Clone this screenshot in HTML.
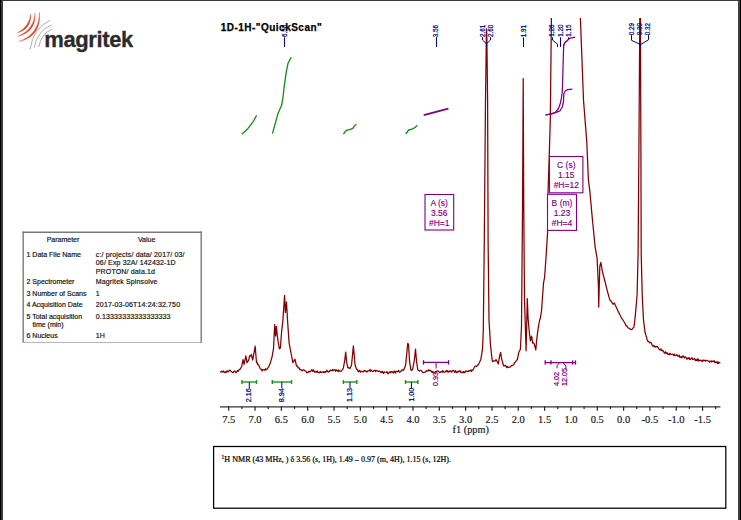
<!DOCTYPE html>
<html><head><meta charset="utf-8"><style>
html,body{margin:0;padding:0;background:#fff;}
body{width:741px;height:520px;overflow:hidden;position:relative;}
svg{position:absolute;left:0;top:0;}
svg{font-family:"Liberation Sans",sans-serif;}
.sf{font-family:"Liberation Serif",serif;}
</style></head><body>
<svg width="741" height="520" viewBox="0 0 741 520">
<rect x="0" y="0" width="741" height="520" fill="#fff"/>
<!-- logo -->
<g fill="none" stroke-linecap="round">
 <g stroke="#b0b0b0" stroke-width="1">
  <path d="M49.9,20.4 Q33,28 30.2,49"/>
  <path d="M51.2,25.1 Q37,31 34.4,47"/>
  <path d="M51.9,29.1 Q41,34 38.8,46.6"/>
 </g>
 <g fill="#d6472c" stroke="#d6472c" stroke-width="0.35">
  <path d="M39.6,12.7 Q41.15,37.15 18.9,41.4 Q38.85,34.85 39.6,12.7Z"/>
  <path d="M35.1,13.6 Q36.15,32.15 18,36.3 Q33.85,29.85 35.1,13.6Z"/>
  <path d="M30.7,14.3 Q31.65,29.15 17.2,33 Q29.35,26.85 30.7,14.3Z"/>
 </g>
</g>
<text x="44.3" y="46.8" font-size="22" font-weight="bold" fill="#2b2b2b" stroke="#2b2b2b" stroke-width="0.3" letter-spacing="-0.4">magritek</text>

<!-- table -->
<g stroke="#7a7a7a" stroke-width="1.4"><line x1="22.5" y1="232.2" x2="202" y2="232.2"/><line x1="23.2" y1="231.5" x2="23.2" y2="343"/><line x1="201.2" y1="231.5" x2="201.2" y2="343"/></g><line x1="23" y1="342.5" x2="201" y2="342.5" stroke="#b8b8b8" stroke-width="1"/>
<g font-size="7" fill="#111" stroke="#111" stroke-width="0.18">
<text x="63" y="241.6" text-anchor="middle">Parameter</text>
<text x="146.6" y="241.6" text-anchor="middle">Value</text>
<text x="26.5" y="256.8">1 Data File Name</text><text x="95.8" y="256.8" letter-spacing="0.15">c:/ projects/ data/ 2017/ 03/</text><text x="95.8" y="265.3" letter-spacing="0.15">06/ Exp 32A/ 142432-1D</text><text x="95.8" y="273.8" letter-spacing="0.15">PROTON/ data.1d</text><text x="26.5" y="284.4">2 Spectrometer</text><text x="95.8" y="284.4" letter-spacing="0.15">Magritek Spinsolve</text><text x="26.5" y="295.8">3 Number of Scans</text><text x="95.8" y="295.8" letter-spacing="0.15">1</text><text x="26.5" y="306.9">4 Acquisition Date</text><text x="95.8" y="306.9" letter-spacing="0.15">2017-03-06T14:24:32.750</text><text x="26.5" y="318.8">5 Total acquisition</text><text x="95.8" y="318.8" letter-spacing="0.15">0.13333333333333333</text><text x="26.5" y="337.8">6 Nucleus</text><text x="95.8" y="337.8" letter-spacing="0.15">1H</text><text x="32.4" y="326.6">time (min)</text>
</g>

<!-- spectrum -->
<defs><clipPath id="cp"><rect x="215" y="18" width="510" height="380"/></clipPath></defs>
<path d="M220.20,372.20 L220.85,371.67 L221.50,371.15 L222.15,372.17 L222.80,371.70 L223.45,370.97 L224.10,372.28 L224.75,372.14 L225.40,372.70 L226.05,371.43 L226.70,372.22 L227.35,370.89 L228.00,371.70 L228.65,371.37 L229.30,370.36 L229.95,370.23 L230.60,371.00 L231.45,371.53 L232.30,372.40 L233.15,372.60 L234.00,371.30 L234.60,370.90 L235.20,371.60 L235.80,372.70 L236.65,371.89 L237.50,370.50 L238.15,371.23 L238.80,370.08 L239.45,369.36 L240.10,369.30 L240.95,367.75 L241.80,366.20 L243.00,359.60 L244.10,364.40 L244.95,360.10 L245.80,355.80 L247.00,362.70 L247.85,361.40 L248.70,360.10 L249.60,355.80 L250.45,356.20 L251.30,354.40 L252.00,357.25 L252.70,360.10 L253.32,356.62 L253.95,353.15 L254.57,349.68 L255.20,346.20 L255.85,354.45 L256.50,362.70 L257.10,362.22 L257.70,364.66 L258.30,364.40 L258.97,365.83 L259.63,367.27 L260.30,368.70 L260.90,368.98 L261.50,369.42 L262.10,371.00 L262.83,369.65 L263.57,369.63 L264.30,369.60 L264.95,370.25 L265.60,368.72 L266.25,369.56 L266.90,369.30 L267.50,368.85 L268.10,367.47 L268.70,367.00 L269.55,364.85 L270.40,362.70 L271.25,359.65 L272.10,356.60 L272.80,352.70 L273.50,348.80 L274.70,324.60 L275.60,335.90 L276.40,326.30 L277.30,335.90 L278.20,341.90 L279.40,348.80 L280.40,348.00 L281.00,339.75 L281.60,331.50 L282.80,321.20 L283.40,312.63 L284.00,304.07 L284.60,295.50 L285.40,312.50 L286.50,302.00 L287.70,322.90 L288.40,332.85 L289.10,342.80 L289.80,346.53 L290.50,350.27 L291.20,354.00 L292.05,358.35 L292.90,362.70 L293.60,361.53 L294.30,360.37 L295.00,359.20 L295.65,362.25 L296.30,365.30 L296.90,366.28 L297.50,366.03 L298.10,367.90 L298.95,367.74 L299.80,369.60 L300.65,369.37 L301.50,370.50 L302.15,370.79 L302.80,370.08 L303.45,369.70 L304.10,370.00 L304.74,370.72 L305.38,370.93 L306.02,371.10 L306.66,372.76 L307.30,372.60 L307.90,372.72 L308.50,371.34 L309.10,371.76 L309.70,371.31 L310.30,371.78 L310.90,371.10 L311.50,369.75 L312.10,369.90 L312.76,371.44 L313.42,369.90 L314.08,371.03 L314.74,372.25 L315.40,372.10 L316.04,371.28 L316.67,372.03 L317.31,370.98 L317.94,372.40 L318.58,372.60 L319.21,372.14 L319.85,372.81 L320.49,371.50 L321.12,372.36 L321.76,372.10 L322.39,372.05 L323.03,371.74 L323.66,372.60 L324.30,371.80 L324.95,372.69 L325.60,371.48 L326.25,371.79 L326.90,370.27 L327.55,371.61 L328.20,371.36 L328.85,372.02 L329.50,371.50 L330.15,370.13 L330.80,370.50 L331.41,370.27 L332.01,370.95 L332.62,369.50 L333.23,370.54 L333.83,369.89 L334.44,369.81 L335.04,369.70 L335.65,371.37 L336.26,369.93 L336.86,370.23 L337.47,370.59 L338.07,371.73 L338.68,369.94 L339.29,370.82 L339.89,371.08 L340.50,371.00 L341.23,371.08 L341.95,370.13 L342.67,369.44 L343.40,367.80 L344.05,364.15 L344.70,360.50 L345.70,352.10 L346.60,362.10 L347.25,364.95 L347.90,367.80 L348.57,367.56 L349.23,368.14 L349.90,368.60 L350.70,366.95 L351.50,365.30 L352.13,358.83 L352.77,352.37 L353.40,345.90 L354.25,355.60 L355.10,365.30 L355.90,367.35 L356.70,369.40 L357.37,369.53 L358.03,371.18 L358.70,371.80 L359.37,370.40 L360.03,370.91 L360.70,372.10 L361.32,371.37 L361.95,371.26 L362.57,371.73 L363.19,371.86 L363.82,371.00 L364.44,370.29 L365.06,371.13 L365.69,370.91 L366.31,371.25 L366.94,372.02 L367.56,371.31 L368.18,370.79 L368.81,370.92 L369.43,370.94 L370.05,369.40 L370.68,371.23 L371.30,370.20 L371.91,370.99 L372.51,371.36 L373.12,371.34 L373.73,370.55 L374.33,370.72 L374.94,370.19 L375.54,371.56 L376.15,370.39 L376.76,370.55 L377.36,371.03 L377.97,371.07 L378.57,371.63 L379.18,371.12 L379.79,371.15 L380.39,371.65 L381.00,372.60 L381.61,371.68 L382.21,372.29 L382.82,371.51 L383.43,373.46 L384.03,372.86 L384.64,371.79 L385.24,372.03 L385.85,372.25 L386.46,372.29 L387.06,371.73 L387.67,373.40 L388.27,373.73 L388.88,372.52 L389.49,372.56 L390.09,371.65 L390.70,372.60 L391.35,371.61 L392.00,372.08 L392.65,371.82 L393.30,373.04 L393.95,371.42 L394.60,371.02 L395.25,373.08 L395.90,372.02 L396.55,371.07 L397.20,371.80 L397.84,371.74 L398.48,370.39 L399.12,371.38 L399.76,372.26 L400.40,371.84 L401.04,371.29 L401.68,370.13 L402.32,370.21 L402.96,369.59 L403.60,370.20 L404.27,368.57 L404.93,366.93 L405.60,365.30 L406.25,358.85 L406.90,352.40 L407.70,343.50 L408.50,344.30 L409.50,360.50 L410.20,365.35 L410.90,370.20 L411.75,370.43 L412.60,369.40 L413.45,364.95 L414.30,360.50 L415.50,349.10 L416.60,362.10 L417.25,366.15 L417.90,370.20 L418.60,370.37 L419.30,371.04 L420.00,370.50 L420.67,370.47 L421.33,370.60 L422.00,371.60 L422.64,372.26 L423.27,372.61 L423.91,372.25 L424.55,372.09 L425.18,372.06 L425.82,371.82 L426.45,370.59 L427.09,371.20 L427.73,370.78 L428.36,369.97 L429.00,371.00 L429.64,370.00 L430.27,370.66 L430.91,370.69 L431.55,371.77 L432.18,372.46 L432.82,371.37 L433.45,372.58 L434.09,372.78 L434.73,372.78 L435.36,371.51 L436.00,371.90 L436.61,371.22 L437.23,371.19 L437.84,371.09 L438.45,371.06 L439.07,371.99 L439.68,372.59 L440.29,372.41 L440.90,371.54 L441.52,371.90 L442.13,372.20 L442.74,370.51 L443.36,371.80 L443.97,372.33 L444.58,372.00 L445.20,371.89 L445.81,371.22 L446.42,370.50 L447.03,371.86 L447.65,370.77 L448.26,371.81 L448.87,372.16 L449.49,370.80 L450.10,371.00 L450.72,370.83 L451.34,372.13 L451.95,371.68 L452.57,370.45 L453.19,370.41 L453.81,370.52 L454.42,372.30 L455.04,372.13 L455.66,370.66 L456.28,372.28 L456.89,372.69 L457.51,372.00 L458.13,371.34 L458.75,371.85 L459.36,370.95 L459.98,370.73 L460.60,371.90 L461.24,372.96 L461.87,372.19 L462.51,371.88 L463.15,372.79 L463.78,371.61 L464.42,372.59 L465.05,372.46 L465.69,371.02 L466.33,371.08 L466.96,371.15 L467.60,371.60 L468.26,370.83 L468.93,371.45 L469.59,370.52 L470.25,370.71 L470.91,369.88 L471.57,371.49 L472.24,370.04 L472.90,370.20 L473.75,368.45 L474.60,366.70 L475.32,366.24 L476.04,366.17 L476.76,366.55 L477.48,365.08 L478.20,364.90 L478.85,363.57 L479.50,362.25 L480.15,360.93 L480.80,359.60 L481.65,354.35 L482.50,349.10 L483.30,330.00 L484.30,240.00 L485.50,100.00 L486.30,40.00 L486.60,28.80 L486.90,40.00 L487.60,100.00 L488.10,240.00 L489.00,320.00 L489.70,331.95 L490.40,343.90 L491.00,349.43 L491.60,354.97 L492.20,360.50 L492.85,361.59 L493.50,360.75 L494.15,360.95 L494.80,361.00 L495.40,360.89 L496.00,359.56 L496.60,360.50 L497.45,362.25 L498.30,364.00 L498.95,360.05 L499.60,356.10 L500.60,352.30 L501.80,359.60 L502.40,361.67 L503.00,363.73 L503.60,365.80 L504.25,365.89 L504.90,365.52 L505.55,365.33 L506.20,366.70 L506.80,367.65 L507.40,366.48 L508.00,367.50 L508.80,367.19 L509.60,367.00 L510.20,367.17 L510.80,366.43 L511.40,365.55 L512.00,365.64 L512.60,365.38 L513.20,364.90 L513.85,364.70 L514.50,362.29 L515.15,362.49 L515.80,361.50 L516.55,360.17 L517.30,360.00 L518.05,356.15 L518.80,352.30 L519.60,350.75 L520.40,349.20 L521.50,326.20 L521.90,280.00 L522.60,200.00 L523.20,78.50 L523.70,200.00 L524.50,300.00 L525.30,325.40 L526.10,350.80 L527.30,298.50 L528.10,318.50 L528.75,325.75 L529.40,333.00 L530.40,340.80 L531.00,338.50 L531.60,336.20 L532.70,343.10 L533.45,342.94 L534.20,343.80 L535.00,346.90 L535.80,350.00 L536.50,341.50 L537.15,336.15 L537.80,330.80 L538.55,326.15 L539.30,321.50 L540.40,318.00 L541.50,310.80 L542.50,297.00 L543.50,283.10 L544.60,277.30 L545.30,267.50 L546.00,257.70 L546.80,245.00 L547.60,232.30 L548.00,193.80 L548.60,175.35 L549.20,156.90 L550.30,120.00 L551.40,18.00 M580.40,18.00 L581.02,34.40 L581.64,50.80 L582.26,67.20 L582.88,83.60 L583.50,100.00 L584.16,108.46 L584.82,116.92 L585.48,125.38 L586.14,133.84 L586.80,142.30 L587.60,161.15 L588.40,180.00 L589.10,185.40 L589.80,190.80 L590.47,198.23 L591.15,205.65 L591.83,213.07 L592.50,220.50 L593.17,227.28 L593.85,234.05 L594.53,240.82 L595.20,247.60 L595.83,251.20 L596.47,254.80 L597.10,258.40 L597.75,271.90 L598.40,285.40 L598.70,307.00 L599.80,266.50 L600.80,262.40 L601.65,267.15 L602.50,271.90 L603.20,274.60 L603.90,277.30 L604.60,280.00 L605.27,282.70 L605.95,285.40 L606.62,288.10 L607.30,290.80 L608.03,293.50 L608.77,296.20 L609.50,298.90 L610.13,300.43 L610.77,300.72 L611.40,301.60 L612.20,302.95 L613.00,304.30 L613.65,303.79 L614.30,303.00 L615.00,304.52 L615.70,306.04 L616.40,307.56 L617.10,309.08 L617.80,310.60 L618.50,312.00 L619.20,313.40 L619.90,314.80 L620.60,316.20 L621.30,317.60 L621.98,318.64 L622.66,319.68 L623.34,320.72 L624.02,321.76 L624.70,322.80 L625.40,324.42 L626.10,325.79 L626.80,325.73 L627.50,327.14 L628.20,327.90 L628.88,328.27 L629.56,328.65 L630.24,329.42 L630.92,329.23 L631.60,329.70 L632.40,328.88 L633.20,327.85 L634.00,327.00 L634.65,321.25 L635.30,315.50 L635.90,308.60 L636.50,301.70 L637.10,294.80 L638.10,253.40 L638.90,150.00 L639.80,18.00 M640.40,18.00 L640.90,150.00 L641.20,253.40 L642.20,294.80 L642.85,307.40 L643.50,320.00 L644.25,326.15 L645.00,332.30 L645.77,334.87 L646.53,337.43 L647.30,340.00 L647.92,341.48 L648.54,341.38 L649.16,342.25 L649.78,342.86 L650.40,342.30 L651.03,342.51 L651.67,343.97 L652.30,345.62 L652.93,346.15 L653.57,345.30 L654.20,346.90 L654.85,346.16 L655.50,347.03 L656.15,346.32 L656.80,346.84 L657.45,346.58 L658.10,347.70 L658.77,348.56 L659.45,349.30 L660.12,350.04 L660.80,348.81 L661.48,350.57 L662.15,350.92 L662.83,350.20 L663.50,351.50 L664.16,352.67 L664.83,353.15 L665.49,351.72 L666.15,353.69 L666.81,352.70 L667.47,353.20 L668.14,354.64 L668.80,353.80 L669.42,354.72 L670.04,353.34 L670.66,354.12 L671.28,354.48 L671.90,354.23 L672.52,354.06 L673.14,354.50 L673.76,355.59 L674.38,354.13 L675.00,355.40 L675.62,355.64 L676.24,355.50 L676.86,354.65 L677.48,355.49 L678.10,356.29 L678.72,356.15 L679.34,355.24 L679.96,357.48 L680.58,357.14 L681.20,356.60 L681.81,357.84 L682.42,356.01 L683.03,356.54 L683.64,356.18 L684.25,358.04 L684.86,357.03 L685.47,356.87 L686.08,357.70 L686.69,358.99 L687.30,358.20 L687.92,359.03 L688.54,357.84 L689.16,357.69 L689.78,359.56 L690.40,358.86 L691.02,359.26 L691.64,357.96 L692.26,357.98 L692.88,359.53 L693.50,359.20 L694.11,359.14 L694.72,358.44 L695.33,360.54 L695.94,359.95 L696.55,360.44 L697.16,358.90 L697.77,360.79 L698.38,359.08 L698.99,361.02 L699.60,360.30 L700.22,360.28 L700.84,360.11 L701.46,360.69 L702.08,361.64 L702.70,360.22 L703.32,359.99 L703.94,360.99 L704.56,360.42 L705.18,360.21 L705.80,361.20 L706.41,360.48 L707.02,360.29 L707.63,360.69 L708.24,361.01 L708.85,361.05 L709.46,362.16 L710.07,361.14 L710.68,361.68 L711.29,361.00 L711.90,361.80 L712.51,361.52 L713.11,360.83 L713.72,361.44 L714.33,360.97 L714.94,362.69 L715.54,362.35 L716.15,361.59 L716.76,362.31 L717.36,363.44 L717.97,361.61 L718.58,363.32 L719.19,362.50 L719.79,362.72 L720.40,362.80" fill="none" stroke="#800000" stroke-width="1.25" stroke-linejoin="round" clip-path="url(#cp)"/>

<!-- peak labels -->
<g font-size="6.5"><text transform="translate(287.20,36.90) rotate(-90) scale(0.83,1)" fill="#00007a" stroke="#00007a" stroke-width="0.22" font-size="7.6" letter-spacing="0">6.50</text><line x1="284.5" y1="37.5" x2="284.5" y2="47" stroke="#00007a"/><text transform="translate(438.00,37.20) rotate(-90) scale(0.83,1)" fill="#00007a" stroke="#00007a" stroke-width="0.22" font-size="7.6" letter-spacing="0">3.56</text><line x1="436.5" y1="37" x2="436.5" y2="47" stroke="#00007a"/><text transform="translate(484.60,37.00) rotate(-90) scale(0.83,1)" fill="#00007a" stroke="#00007a" stroke-width="0.22" font-size="7.6" letter-spacing="0">2.61</text><text transform="translate(493.00,37.00) rotate(-90) scale(0.83,1)" fill="#00007a" stroke="#00007a" stroke-width="0.22" font-size="7.6" letter-spacing="0">2.60</text><polyline points="482.5,37.3 482.5,40 486.5,43.8 486.5,47" fill="none" stroke="#00007a"/><polyline points="490.5,37.3 490.5,40 486.5,43.8" fill="none" stroke="#00007a"/><text transform="translate(525.70,37.30) rotate(-90) scale(0.83,1)" fill="#00007a" stroke="#00007a" stroke-width="0.22" font-size="7.6" letter-spacing="0">1.91</text><line x1="523.5" y1="37.3" x2="523.5" y2="47" stroke="#00007a"/><text transform="translate(554.10,36.70) rotate(-90) scale(0.83,1)" fill="#00007a" stroke="#00007a" stroke-width="0.22" font-size="7.6" letter-spacing="0">1.26</text><text transform="translate(562.70,36.70) rotate(-90) scale(0.83,1)" fill="#00007a" stroke="#00007a" stroke-width="0.22" font-size="7.6" letter-spacing="0">1.20</text><text transform="translate(570.80,36.70) rotate(-90) scale(0.83,1)" fill="#00007a" stroke="#00007a" stroke-width="0.22" font-size="7.6" letter-spacing="0">1.15</text><polyline points="552.5,37.3 552.5,40.1 557.5,44.2 557.5,47" fill="none" stroke="#00007a"/><line x1="560.5" y1="37.3" x2="560.5" y2="47" stroke="#00007a"/><polyline points="568.5,37.3 568.5,39.8 563.5,44.3 563.5,47" fill="none" stroke="#00007a"/><text transform="translate(633.95,35.30) rotate(-90) scale(0.83,1)" fill="#00007a" stroke="#00007a" stroke-width="0.22" font-size="7.6" letter-spacing="0">0.29</text><text transform="translate(642.20,35.30) rotate(-90) scale(0.83,1)" fill="#00007a" stroke="#00007a" stroke-width="0.22" font-size="7.6" letter-spacing="0">0.30</text><text transform="translate(650.45,35.30) rotate(-90) scale(0.83,1)" fill="#00007a" stroke="#00007a" stroke-width="0.22" font-size="7.6" letter-spacing="0">0.32</text><polyline points="631.5,35.2 631.5,40.3 640.5,44.6 640.5,46.8" fill="none" stroke="#00007a"/><polyline points="648.5,35.2 648.5,39.8 640.5,44.6" fill="none" stroke="#00007a"/></g>

<!-- title -->
<text x="220.7" y="30.7" font-size="10" font-weight="bold" fill="#000" stroke="#000" stroke-width="0.25" letter-spacing="0.48">1D-1H-"QuickScan"</text>

<!-- integrals -->
<g fill="none" stroke="#148a14" stroke-width="1.3" stroke-linejoin="round">
<polyline points="241.9,134.2 247.8,128.7 253.3,121.4 256.6,115.4"/><polyline points="272.5,133.6 275.2,123.6 278.0,113.5 281.6,105.3 282.9,98.0 284.4,85.2 286.2,72.4 288.0,63.3 291.3,57.4"/><polyline points="343.4,134.0 346.3,130.4 349.6,129.6 352.8,128.3 354.4,125.9 356.4,124.3"/><polyline points="405.8,134.0 408.7,130.0 411.9,129.1 415.2,127.5 417.3,125.1"/>
</g>
<polyline points="423.7,115.1 436,111.9 448.4,108.6" fill="none" stroke="#800080" stroke-width="1.9"/>
<g fill="none" stroke="#800080" stroke-width="1.25" stroke-linejoin="round">
<polyline points="545.4,115.0 551.5,113.8 555.4,112.3 558.5,108.5 560.4,103.0 561.5,97.7 562.3,91.5 562.7,80.0 563.3,57.4 563.7,45.7 565.0,42.5 569.7,38.3 575.0,37.2"/>
<polyline points="545.4,115.0 551.5,113.8 555.4,112.7 560.0,110.8 562.3,107.0 563.5,101.5 563.8,93.8 565.4,90.8 567.7,89.6 572.3,89.2"/>
</g>

<!-- boxes -->
<g font-size="8.5" fill="#800080" stroke="#800080" stroke-width="0.15"><rect x="425" y="194.5" width="28.70" height="35.50" fill="#fff" stroke="#800080" stroke-width="1.1"/><text x="439.2" y="205.80" text-anchor="middle">A (s)</text><text x="439.2" y="215.65" text-anchor="middle">3.56</text><text x="439.2" y="225.50" text-anchor="middle">#H=1</text><rect x="549.5" y="156.5" width="33.40" height="36.30" fill="#fff" stroke="#800080" stroke-width="1.1"/><text x="566.3" y="168.00" text-anchor="middle">C (s)</text><text x="566.3" y="177.85" text-anchor="middle">1.15</text><text x="566.3" y="187.70" text-anchor="middle">#H=12</text><rect x="547.5" y="194.3" width="29.00" height="36.10" fill="#fff" stroke="#800080" stroke-width="1.1"/><text x="562.0" y="206.40" text-anchor="middle">B (m)</text><text x="562.0" y="216.25" text-anchor="middle">1.23</text><text x="562.0" y="226.10" text-anchor="middle">#H=4</text></g>

<!-- integration bars -->
<g font-size="6.5"><line x1="242" y1="382" x2="256.5" y2="382" stroke="#148a14" stroke-width="1.3"/><line x1="242" y1="380.1" x2="242" y2="383.9" stroke="#148a14" stroke-width="1.4"/><line x1="256.5" y1="380.1" x2="256.5" y2="383.9" stroke="#148a14" stroke-width="1.4"/><line x1="249.3" y1="382" x2="249.3" y2="388.3" stroke="#00007a"/><text transform="translate(251.05,402.20) rotate(-90) scale(1.0,1)" fill="#00007a" stroke="#00007a" stroke-width="0.22" font-size="7.2" letter-spacing="0">2.16</text><line x1="272.3" y1="382" x2="291.5" y2="382" stroke="#148a14" stroke-width="1.3"/><line x1="272.3" y1="380.1" x2="272.3" y2="383.9" stroke="#148a14" stroke-width="1.4"/><line x1="291.5" y1="380.1" x2="291.5" y2="383.9" stroke="#148a14" stroke-width="1.4"/><line x1="281.8" y1="382" x2="281.8" y2="388.3" stroke="#00007a"/><text transform="translate(284.05,402.30) rotate(-90) scale(1.0,1)" fill="#00007a" stroke="#00007a" stroke-width="0.22" font-size="7.2" letter-spacing="0">8.94</text><line x1="343.4" y1="382" x2="356.8" y2="382" stroke="#148a14" stroke-width="1.3"/><line x1="343.4" y1="380.1" x2="343.4" y2="383.9" stroke="#148a14" stroke-width="1.4"/><line x1="356.8" y1="380.1" x2="356.8" y2="383.9" stroke="#148a14" stroke-width="1.4"/><line x1="350.0" y1="382" x2="350.0" y2="388.3" stroke="#00007a"/><text transform="translate(352.05,402.00) rotate(-90) scale(1.0,1)" fill="#00007a" stroke="#00007a" stroke-width="0.22" font-size="7.2" letter-spacing="0">1.13</text><line x1="405.5" y1="382" x2="417.9" y2="382" stroke="#148a14" stroke-width="1.3"/><line x1="405.5" y1="380.1" x2="405.5" y2="383.9" stroke="#148a14" stroke-width="1.4"/><line x1="417.9" y1="380.1" x2="417.9" y2="383.9" stroke="#148a14" stroke-width="1.4"/><line x1="411.4" y1="382" x2="411.4" y2="388.3" stroke="#00007a"/><text transform="translate(413.85,401.70) rotate(-90) scale(1.0,1)" fill="#00007a" stroke="#00007a" stroke-width="0.22" font-size="7.2" letter-spacing="0">1.00</text><g stroke="#800080" stroke-width="1.3"><line x1="423.5" y1="362.4" x2="448.6" y2="362.4"/><line x1="423.5" y1="360.2" x2="423.5" y2="364.6"/><line x1="448.6" y1="360.2" x2="448.6" y2="364.6"/></g><line x1="436.1" y1="362.4" x2="436.1" y2="368.5" stroke="#800080"/><text transform="translate(438.25,386.10) rotate(-90) scale(1.0,1)" fill="#800080" stroke="#800080" stroke-width="0.22" font-size="7.2" letter-spacing="0">0.93</text><g stroke="#800080" stroke-width="1.3"><line x1="545.2" y1="362.6" x2="575.5" y2="362.6"/><line x1="545.2" y1="360.3" x2="545.2" y2="364.6"/><line x1="551" y1="360.3" x2="551" y2="364.6"/><line x1="572.6" y1="360.3" x2="572.6" y2="364.6"/><line x1="575.5" y1="360.3" x2="575.5" y2="364.6"/></g><polyline points="559.6,362.6 557,365.8 557,368.3" fill="none" stroke="#800080"/><polyline points="563,362.6 565.9,366.2 565.9,369.8" fill="none" stroke="#800080"/><text transform="translate(558.85,385.90) rotate(-90) scale(1.0,1)" fill="#800080" stroke="#800080" stroke-width="0.22" font-size="7.2" letter-spacing="0">4.02</text><text transform="translate(566.95,386.00) rotate(-90) scale(1.0,1)" fill="#800080" stroke="#800080" stroke-width="0.22" font-size="7.2" letter-spacing="0">12.05</text></g>

<!-- axis -->
<line x1="220" y1="406.8" x2="720.4" y2="406.8" stroke="#333" stroke-width="1.3"/>
<g stroke="#222" stroke-width="1.2"><line x1="228.73" y1="406.5" x2="228.73" y2="410.8"/><line x1="241.89" y1="406.5" x2="241.89" y2="408.9"/><line x1="255.05" y1="406.5" x2="255.05" y2="410.8"/><line x1="268.21" y1="406.5" x2="268.21" y2="408.9"/><line x1="281.38" y1="406.5" x2="281.38" y2="410.8"/><line x1="294.54" y1="406.5" x2="294.54" y2="408.9"/><line x1="307.70" y1="406.5" x2="307.70" y2="410.8"/><line x1="320.86" y1="406.5" x2="320.86" y2="408.9"/><line x1="334.03" y1="406.5" x2="334.03" y2="410.8"/><line x1="347.19" y1="406.5" x2="347.19" y2="408.9"/><line x1="360.35" y1="406.5" x2="360.35" y2="410.8"/><line x1="373.51" y1="406.5" x2="373.51" y2="408.9"/><line x1="386.68" y1="406.5" x2="386.68" y2="410.8"/><line x1="399.84" y1="406.5" x2="399.84" y2="408.9"/><line x1="413.00" y1="406.5" x2="413.00" y2="410.8"/><line x1="426.16" y1="406.5" x2="426.16" y2="408.9"/><line x1="439.33" y1="406.5" x2="439.33" y2="410.8"/><line x1="452.49" y1="406.5" x2="452.49" y2="408.9"/><line x1="465.65" y1="406.5" x2="465.65" y2="410.8"/><line x1="478.81" y1="406.5" x2="478.81" y2="408.9"/><line x1="491.98" y1="406.5" x2="491.98" y2="410.8"/><line x1="505.14" y1="406.5" x2="505.14" y2="408.9"/><line x1="518.30" y1="406.5" x2="518.30" y2="410.8"/><line x1="531.46" y1="406.5" x2="531.46" y2="408.9"/><line x1="544.62" y1="406.5" x2="544.62" y2="410.8"/><line x1="557.79" y1="406.5" x2="557.79" y2="408.9"/><line x1="570.95" y1="406.5" x2="570.95" y2="410.8"/><line x1="584.11" y1="406.5" x2="584.11" y2="408.9"/><line x1="597.27" y1="406.5" x2="597.27" y2="410.8"/><line x1="610.44" y1="406.5" x2="610.44" y2="408.9"/><line x1="623.60" y1="406.5" x2="623.60" y2="410.8"/><line x1="636.76" y1="406.5" x2="636.76" y2="408.9"/><line x1="649.93" y1="406.5" x2="649.93" y2="410.8"/><line x1="663.09" y1="406.5" x2="663.09" y2="408.9"/><line x1="676.25" y1="406.5" x2="676.25" y2="410.8"/><line x1="689.41" y1="406.5" x2="689.41" y2="408.9"/><line x1="702.58" y1="406.5" x2="702.58" y2="410.8"/><line x1="715.74" y1="406.5" x2="715.74" y2="408.9"/></g>
<g class="sf" font-size="10.5" fill="#111" stroke="#111" stroke-width="0.15" text-anchor="middle"><text x="228.73" y="423">7.5</text><text x="255.05" y="423">7.0</text><text x="281.38" y="423">6.5</text><text x="307.70" y="423">6.0</text><text x="334.03" y="423">5.5</text><text x="360.35" y="423">5.0</text><text x="386.68" y="423">4.5</text><text x="413.00" y="423">4.0</text><text x="439.33" y="423">3.5</text><text x="465.65" y="423">3.0</text><text x="491.98" y="423">2.5</text><text x="518.30" y="423">2.0</text><text x="544.62" y="423">1.5</text><text x="570.95" y="423">1.0</text><text x="597.27" y="423">0.5</text><text x="623.60" y="423">0.0</text><text x="649.93" y="423">-0.5</text><text x="676.25" y="423">-1.0</text><text x="702.58" y="423">-1.5</text></g>
<text x="452.6" y="433.2" font-size="10.3" fill="#111" stroke="#111" stroke-width="0.15" class="sf">f1 (ppm)</text>

<!-- bottom box -->
<rect x="213.6" y="446.5" width="512.2" height="61.7" fill="none" stroke="#000" stroke-width="1.25"/>
<text x="221.6" y="461.7" font-size="8.05" fill="#000" stroke="#000" stroke-width="0.2" class="sf"><tspan font-size="5.5" dy="-3">1</tspan><tspan dy="3">H NMR (43 MHz, ) δ 3.56 (s, 1H), 1.49 – 0.97 (m, 4H), 1.15 (s, 12H).</tspan></text>

<!-- window borders -->
<rect x="0" y="0" width="741" height="1" fill="#34393d"/>
<rect x="0" y="0" width="1" height="520" fill="#000"/>
<rect x="1" y="1" width="2" height="519" fill="#363c40"/>
<rect x="738" y="1" width="2" height="519" fill="#3b4044"/>
<rect x="740" y="0" width="1" height="520" fill="#000"/>
</svg>
</body></html>
